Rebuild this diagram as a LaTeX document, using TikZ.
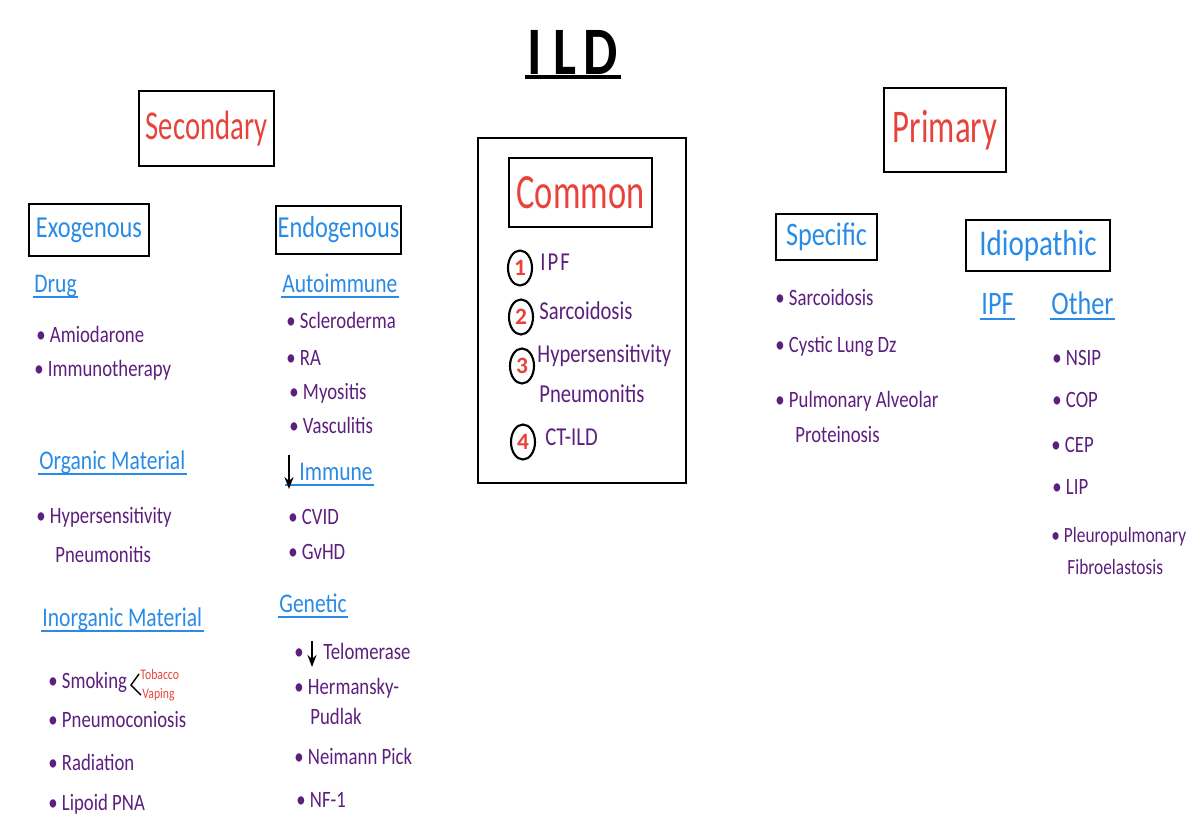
\documentclass[tikz,border=0pt]{standalone}
\usepackage{fontspec}
\setmainfont{Carlito}
\usepackage{xcolor}
\usepackage{graphicx}
\usetikzlibrary{shapes.geometric, arrows.meta, positioning}
\definecolor{ildred}{HTML}{E8433B}
\definecolor{ildblue}{HTML}{2A8BE6}
\definecolor{ildpurple}{HTML}{5C1F7E}
% narrow, tall lettering like the hand-written sheet
\newcommand{\hw}[1]{\scalebox{0.8}[1]{#1}}
\newcommand{\hwt}[1]{\scalebox{0.7}[1]{#1}}

\begin{document}
\begin{tikzpicture}[x=0.03cm, y=-0.03cm,
  bigbox/.style={rectangle, draw, line width=2.2pt, text=ildred, inner sep=0pt},
  subbox/.style={rectangle, draw, line width=1.6pt, text=ildblue, inner sep=0pt, font=\fontsize{26}{30}\selectfont},
  head/.style={anchor=west, text=ildblue, inner sep=1pt, text height=0.7em, text depth=0.2em, font=\fontsize{23}{26}\selectfont},
  item/.style={anchor=west, text=ildpurple, inner sep=1pt, text height=0.7em, text depth=0.2em, font=\fontsize{20}{23}\selectfont},
  citem/.style={item, font=\fontsize{22}{25}\selectfont},
  numcirc/.style={ellipse, draw, line width=1.8pt, text=ildred, inner sep=0pt, minimum width=0.72cm, minimum height=1.05cm, font=\fontsize{20}{22}\selectfont\bfseries},
  uline/.style={ildblue, line width=1.4pt},
  arrow/.style={-{Stealth}, thick}
]
  \useasboundingbox (0,0) rectangle (1200,835);

  % title
  \node[anchor=south, inner sep=2pt, text height=0.66em, text depth=0pt, font=\fontsize{58}{60}\selectfont\bfseries] (ild) at (573,77) {\hw{I\hspace{0.2em}L\hspace{0.14em}D}};
  \draw[line width=2.6pt] (ild.south west) -- (ild.south east);

  % three main groups
  \node[bigbox, minimum width=4.05cm, minimum height=2.25cm, font=\fontsize{35}{38}\selectfont] (sec) at (206.5,128.5) {\hwt{Secondary}};
  \node[bigbox, minimum width=6.24cm, minimum height=10.35cm] (frame) at (582,310.5) {};
  \node[bigbox, minimum width=4.29cm, minimum height=2.07cm, font=\fontsize{42}{45}\selectfont] (com) at (580.5,192.5) {\hwt{Common}};
  \node[bigbox, minimum width=3.66cm, minimum height=2.52cm, font=\fontsize{40}{43}\selectfont] (pri) at (945,130) {\hwt{Primary}};

  \node[subbox, minimum width=3.6cm, minimum height=1.56cm] (exo) at (89,230) {\hw{Exogenous}};
  \node[subbox, minimum width=3.75cm, minimum height=1.44cm] (endo) at (338.5,230) {\hw{Endogenous}};
  \node[subbox, minimum width=3.03cm, minimum height=1.38cm, font=\fontsize{28}{31}\selectfont] (spec) at (826.5,237) {\hw{Specific}};
  \node[subbox, minimum width=4.32cm, minimum height=1.53cm, font=\fontsize{31}{34}\selectfont] (idio) at (1038,245.5) {\hw{Idiopathic}};

  % exogenous
  \node[head] (drug) at (33,290) {\hw{Drug}};
  \node[item] (amio) at (35,340) {\hw{\textbullet\ Amiodarone}};
  \node[item] (immuno) at (33,374) {\hw{\textbullet\ Immunotherapy}};
  \node[head] (org) at (38,467) {\hw{Organic Material}};
  \node[item] (hyp) at (35,521) {\hw{\textbullet\ Hypersensitivity}};
  \node[item] (hypb) at (54,560) {\hw{Pneumonitis}};
  \node[head] (inorg) at (41,624) {\hw{Inorganic Material}};
  \node[item] (smok) at (47,686) {\hw{\textbullet\ Smoking}};
  \node[anchor=west, inner sep=1pt, text=ildred, font=\fontsize{12.5}{14}\selectfont] (tob) at (139,674) {\hw{Tobacco}};
  \node[anchor=west, inner sep=1pt, text=ildred, font=\fontsize{12.5}{14}\selectfont] (vap) at (141,695) {\hw{Vaping}};
  \coordinate (fork) at (131,685);
  \node[item] (pneumo) at (47,725) {\hw{\textbullet\ Pneumoconiosis}};
  \node[item] (rad) at (47,768) {\hw{\textbullet\ Radiation}};
  \node[item] (lipoid) at (47,808) {\hw{\textbullet\ Lipoid PNA}};

  % endogenous
  \node[head] (auto) at (281,290) {\hw{Autoimmune}};
  \node[item] (scl) at (285,326) {\hw{\textbullet\ Scleroderma}};
  \node[item] (ra) at (285,363) {\hw{\textbullet\ RA}};
  \node[item] (myo) at (288,397) {\hw{\textbullet\ Myositis}};
  \node[item] (vasc) at (288,431) {\hw{\textbullet\ Vasculitis}};
  \coordinate (imtop) at (289,455);
  \coordinate (imbot) at (289,489);
  \node[head] (immune) at (298,478) {\hw{Immune}};
  \node[item] (cvid) at (287,522) {\hw{\textbullet\ CVID}};
  \node[item] (gvhd) at (287,557) {\hw{\textbullet\ GvHD}};
  \node[head] (gen) at (278,610) {\hw{Genetic}};
  \node[item] (telo) at (293,657) {\hw{\textbullet\hspace{1.05em}Telomerase}};
  \coordinate (tltop) at (312,641);
  \coordinate (tlbot) at (312,667);
  \node[item] (herm) at (293,692) {\hw{\textbullet\ Hermansky-}};
  \node[item] (hermb) at (309,722) {\hw{Pudlak}};
  \node[item] (neim) at (293,762) {\hw{\textbullet\ Neimann Pick}};
  \node[item] (nf) at (295,805) {\hw{\textbullet\ NF-1}};

  % common
  \node[numcirc] (c1) at (520,268) {1};
  \node[numcirc] (c2) at (521,317) {2};
  \node[numcirc] (c3) at (522,366) {3};
  \node[numcirc] (c4) at (523,442) {4};
  \node[citem] (cipf) at (539,268) {\hw{I\hspace{0.1em}P\hspace{0.1em}F}};
  \node[citem] (csarc) at (538,317) {\hw{Sarcoidosis}};
  \node[citem] (chyp) at (536,360) {\hw{Hypersensitivity}};
  \node[citem] (chypb) at (538,400) {\hw{Pneumonitis}};
  \node[citem] (cct) at (544,443) {\hw{CT-ILD}};

  % specific
  \node[item] (ssarc) at (774,303) {\hw{\textbullet\ Sarcoidosis}};
  \node[item] (cyst) at (774,350) {\hw{\textbullet\ Cystic Lung Dz}};
  \node[item] (pulm) at (774,405) {\hw{\textbullet\ Pulmonary Alveolar}};
  \node[item] (prot) at (794,440) {\hw{Proteinosis}};

  % idiopathic
  \node[head, font=\fontsize{28}{30}\selectfont] (ipfh) at (980,312) {\hw{IPF}};
  \node[head, font=\fontsize{28}{30}\selectfont] (oth) at (1050,312) {\hw{Other}};
  \node[item] (nsip) at (1051,363) {\hw{\textbullet\ NSIP}};
  \node[item] (cop) at (1051,405) {\hw{\textbullet\ COP}};
  \node[item] (cep) at (1050,450) {\hw{\textbullet\ CEP}};
  \node[item] (lip) at (1051,492) {\hw{\textbullet\ LIP}};
  \node[item, font=\fontsize{18.5}{21}\selectfont] (pleuro) at (1050,540) {\hw{\textbullet\ Pleuropulmonary}};
  \node[item, font=\fontsize{18.5}{21}\selectfont] (fibro) at (1066,572) {\hw{Fibroelastosis}};

  % underlines
  \foreach \h in {drug, org, inorg, auto, gen, ipfh, oth}
    \draw[uline] (\h.south west) -- (\h.south east);
  \draw[uline] (immune.south east) -- (immune.south east -| imtop) -- ++(-4,0);

  % arrows and fork
  \draw[arrow, line width=1.6pt] (imtop) -- (imbot);
  \draw[arrow, line width=1.6pt] (tltop) -- (tlbot);
  \draw[line width=1.2pt] (tob.west) -- (fork) -- (vap.west);
\end{tikzpicture}
\end{document}
